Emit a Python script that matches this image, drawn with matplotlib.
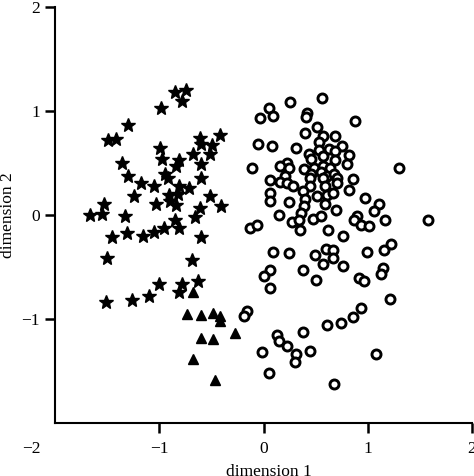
import matplotlib
matplotlib.use("Agg")
import matplotlib.pyplot as plt
import matplotlib.transforms as mtransforms

plt.rcParams['font.family'] = ['Liberation Serif', 'DejaVu Serif']

# group 1: stars
star_x = [-0.846, -0.740, -0.779, -0.981, -1.298, -1.490, -1.413, -0.606, -0.413, -0.596,
          -0.490, -0.990, -0.673, -0.510, -0.971, -0.808, -1.356, -0.596, -0.837, -1.298,
          -0.942, -0.913, -0.596, -1.173, -1.048, -0.808, -0.712, -1.240, -0.904, -0.817,
          -0.510, -0.894, -1.029, -0.837, -0.606, -0.404, -1.529, -1.548, -1.663, -1.327,
          -0.654, -0.846, -0.808, -0.952, -1.048, -1.308, -1.452, -1.154, -0.596, -1.500,
          -0.683, -1.000, -0.779, -0.625, -0.808, -1.096, -1.260, -1.510]
star_y = [1.183, 1.202, 1.096, 1.029, 0.865, 0.721, 0.731, 0.740, 0.769, 0.683,
          0.673, 0.644, 0.587, 0.587, 0.538, 0.529, 0.500, 0.490, 0.471, 0.375,
          0.394, 0.356, 0.356, 0.308, 0.279, 0.279, 0.260, 0.183, 0.192, 0.202,
          0.183, 0.135, 0.106, 0.096, 0.067, 0.087, 0.106, 0.010, 0.000, -0.010,
          -0.019, -0.048, -0.125, -0.125, -0.163, -0.173, -0.212, -0.202, -0.212, -0.413,
          -0.433, -0.663, -0.663, -0.635, -0.740, -0.779, -0.817, -0.837]

# group 2: triangles
tri_x = [-0.673, -0.731, -0.596, -0.481, -0.413, -0.413, -0.269, -0.596, -0.481, -0.673, -0.462]
tri_y = [-0.740, -0.952, -0.962, -0.942, -0.971, -1.019, -1.135, -1.183, -1.192, -1.385, -1.587]

# group 3: open circles
circ_x = [0.250, 0.558, 0.048, -0.038, 0.087, 0.413, 0.404, 0.875, 0.510, 0.394,
          0.567, 0.683, -0.048, 0.077, 0.308, 0.529, 0.750, 0.625, 0.529, 0.683,
          0.433, 0.817, 0.567, 0.452, 0.683, 0.221, 0.154, 0.240, 0.798, -0.106,
          0.385, 0.481, 0.567, 0.635, 1.298, 0.452, 0.548, 0.606, 0.673, 0.067,
          0.202, 0.442, 0.567, 0.702, 0.856, 0.163, 0.221, 0.279, 0.442, 0.587,
          0.702, 0.067, 0.375, 0.510, 0.606, 0.663, 0.817, 0.067, 0.240, 0.394,
          0.587, 0.385, 0.971, 1.106, 0.692, 0.356, 0.144, 1.058, 1.163, 0.894,
          0.865, 0.933, 1.010, 0.269, 0.337, 0.471, 0.548, 0.346, -0.125, -0.067,
          0.615, 0.760, 0.087, 0.240, 0.490, 0.596, 0.663, 0.663, 0.567, 0.760,
          0.990, 1.154, 1.221, 0.058, 0.000, 0.375, 0.500, 0.913, 0.962, 1.144,
          1.125, 0.058, 1.212, -0.163, -0.183, 0.933, 0.856, 0.740, 0.606, 0.375,
          0.125, 0.144, 0.221, -0.019, 0.308, 0.442, 0.298, 1.077, 0.048, 0.673,
          1.577]
circ_y = [1.087, 1.125, 1.029, 0.933, 0.952, 0.981, 0.942, 0.904, 0.846, 0.788,
          0.760, 0.760, 0.683, 0.663, 0.644, 0.702, 0.663, 0.635, 0.625, 0.615,
          0.587, 0.577, 0.567, 0.538, 0.529, 0.500, 0.471, 0.452, 0.490, 0.452,
          0.442, 0.452, 0.471, 0.452, 0.452, 0.394, 0.413, 0.375, 0.394, 0.337,
          0.375, 0.356, 0.356, 0.356, 0.346, 0.317, 0.308, 0.279, 0.279, 0.279,
          0.308, 0.212, 0.231, 0.183, 0.192, 0.212, 0.240, 0.135, 0.125, 0.154,
          0.106, 0.087, 0.163, 0.106, 0.048, 0.019, 0.000, 0.038, -0.048, -0.010,
          -0.048, -0.096, -0.106, -0.067, -0.048, -0.038, -0.010, -0.144, -0.125, -0.096,
          -0.144, -0.202, -0.356, -0.365, -0.385, -0.327, -0.337, -0.413, -0.471, -0.490,
          -0.356, -0.337, -0.279, -0.529, -0.587, -0.529, -0.625, -0.606, -0.635, -0.510,
          -0.567, -0.702, -0.808, -0.923, -0.971, -0.894, -0.981, -1.038, -1.058, -1.125,
          -1.154, -1.212, -1.260, -1.317, -1.337, -1.308, -1.413, -1.337, -1.519, -1.625,
          -0.048]

xticks = [-1, 0, 1, 2]
yticks = [-1, 0, 1, 2]

fig = plt.figure(figsize=(4.74, 4.76), dpi=100)
ax = fig.add_axes([55 / 474, 53 / 476, 417 / 474, 416 / 476])

ax.plot(circ_x, circ_y, 'o', ms=6.5, mfc='white', mec='black', mew=2.1, ls='none')
ax.plot(star_x, star_y, '*', ms=10.5, color='black', ls='none')
ax.plot(tri_x, tri_y, '^', ms=7.5, color='black', ls='none')

ax.set_xlim(-2, 2)
ax.set_ylim(-2, 2)
ax.set_xticks(xticks)
ax.set_yticks(yticks)
ax.spines['top'].set_visible(False)
ax.spines['right'].set_visible(False)
for s in ['left', 'bottom']:
    ax.spines[s].set_linewidth(1.5)
ax.tick_params(axis='both', direction='out', length=7, width=1.8, labelsize=12.5)
ax.tick_params(axis='x', pad=6)
ax.tick_params(axis='y', pad=4)

# the "-2" label sits left of the corner, away from the y axis
trans = mtransforms.offset_copy(ax.get_xaxis_transform(), fig=fig, x=0, y=-13, units='points')
ax.text(-2.23, 0, '\u22122', transform=trans, ha='center', va='top', fontsize=12.5, clip_on=False)

ax.set_xlabel('dimension 1', fontsize=12.5)
ax.set_ylabel('dimension 2', fontsize=12.5, va='center')
ax.xaxis.set_label_coords(0.513, -0.098)
ax.yaxis.set_label_coords(-0.112, 0.5)

fig.savefig('out.png', dpi=100)
